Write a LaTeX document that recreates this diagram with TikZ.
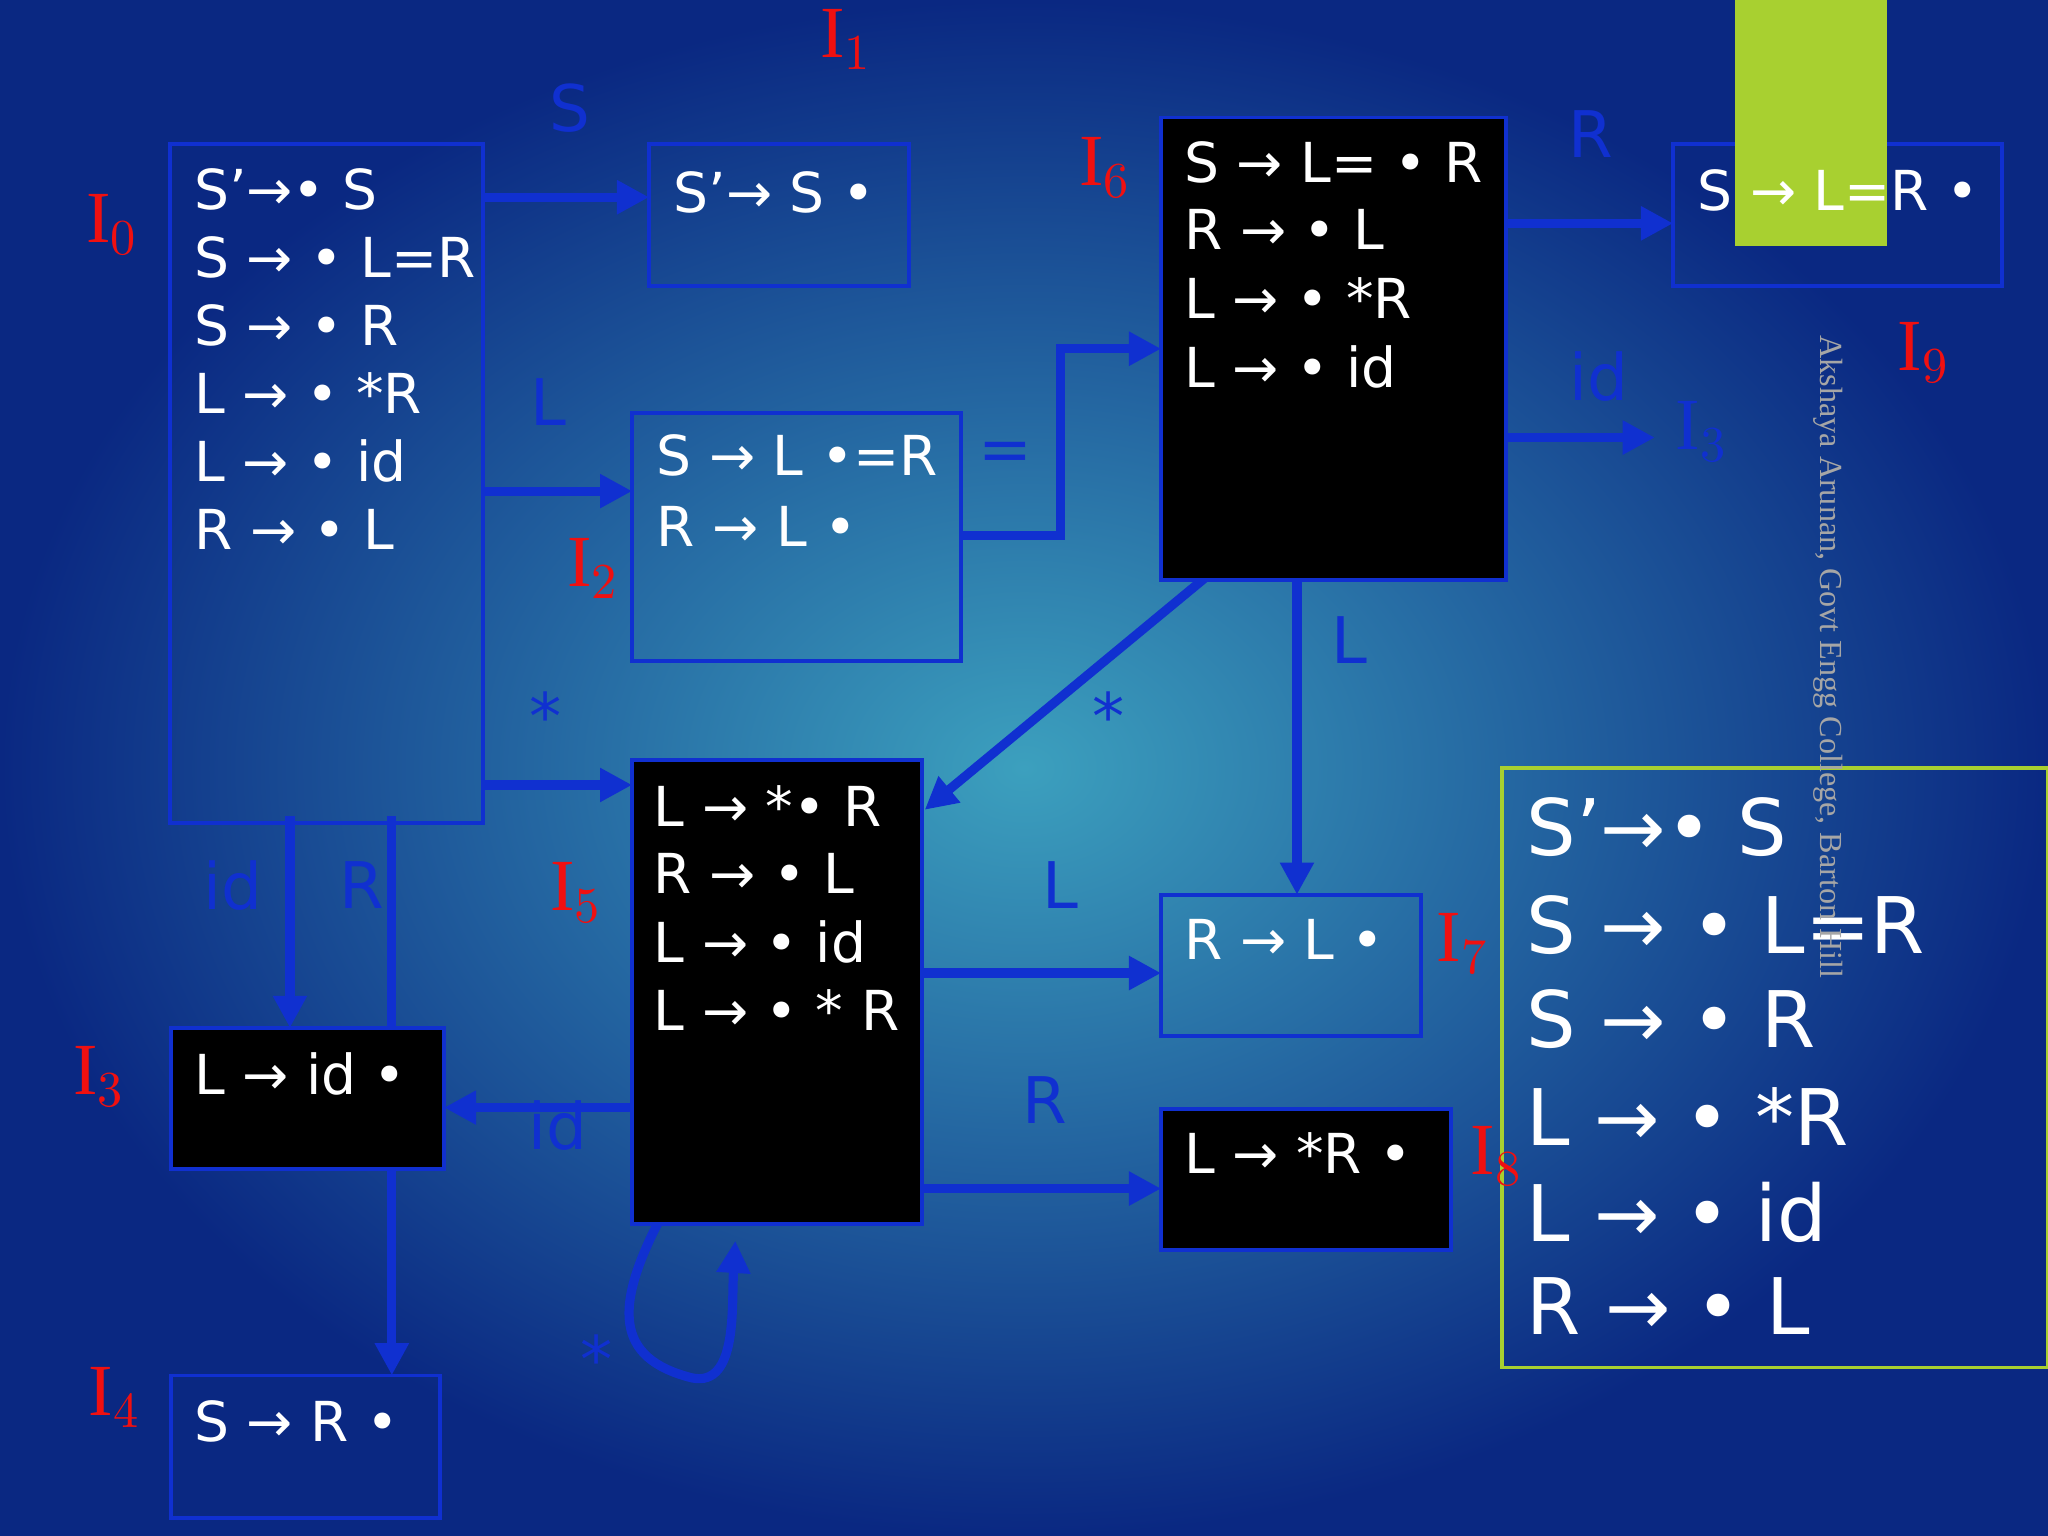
\documentclass[tikz,border=0pt]{standalone}
\usepackage{fontspec}
\setmainfont{DejaVu Sans}
\newfontfamily\serifl{Liberation Serif}
\usetikzlibrary{arrows.meta}
\definecolor{ebl}{HTML}{1030D0}
\definecolor{ired}{HTML}{F01010}
\definecolor{lime}{HTML}{A8D030}
\tikzset{
 wbox/.style={draw=ebl,line width=0.8pt},
 bbox/.style={draw=ebl,fill=black,line width=0.8pt},
 itm/.style={anchor=west,text=white,font=\fontsize{12}{12}\selectfont,inner sep=0pt},
 big/.style={anchor=west,text=white,font=\fontsize{17}{17}\selectfont,inner sep=0pt},
 ed/.style={draw=ebl,line width=2pt,-{Triangle[length=7pt,width=7pt]}},
 elab/.style={text=ebl,font=\fontsize{14}{14}\selectfont},
 ilab/.style={text=ired,font=\serifl\fontsize{16}{16}\selectfont},
}
\begin{document}
\begin{tikzpicture}[x=0.01cm,y=-0.01cm]
\shade[inner color={rgb,255:red,60;green,160;blue,190},outer color={rgb,255:red,10;green,40;blue,130}] (0,0) rectangle (1568,1176);
\useasboundingbox (0,0) rectangle (1568,1176);
\coordinate (e1s) at (370,151); \coordinate (e1t) at (497,151);
\draw[ed] (e1s) -- (e1t);
\coordinate (e2s) at (370,376); \coordinate (e2t) at (484,376);
\draw[ed] (e2s) -- (e2t);
\coordinate (e3s) at (370,601); \coordinate (e3t) at (484,601);
\draw[ed] (e3s) -- (e3t);
\coordinate (e4s) at (222,625); \coordinate (e4t) at (222,787);
\draw[ed] (e4s) -- (e4t);
\coordinate (e5s) at (300,625); \coordinate (e5t) at (300,1053);
\draw[ed] (e5s) -- (e5t);
\coordinate (e6s) at (736,410); \coordinate (e6t) at (889,267);
\draw[ed] (e6s) -- (812,410) -- (812,267) -- (e6t);
\coordinate (e7s) at (1153,171); \coordinate (e7t) at (1281,171);
\draw[ed] (e7s) -- (e7t);
\coordinate (e8s) at (1153,335); \coordinate (e8t) at (1267,335);
\draw[ed] (e8s) -- (e8t);
\coordinate (e9s) at (993,444); \coordinate (e9t) at (993,685);
\draw[ed] (e9s) -- (e9t);
\coordinate (e10s) at (928,438); \coordinate (e10t) at (708,620);
\draw[ed] (e10s) -- (e10t);
\coordinate (e11s) at (706,745); \coordinate (e11t) at (889,745);
\draw[ed] (e11s) -- (e11t);
\coordinate (e12s) at (706,910); \coordinate (e12t) at (889,910);
\draw[ed] (e12s) -- (e12t);
\coordinate (e13s) at (484,848); \coordinate (e13t) at (340,848);
\draw[ed] (e13s) -- (e13t);
\coordinate (e14s) at (507,930); \coordinate (e14t) at (563,950);
\draw[ed] (e14s) .. controls (470,1000) and (470,1040) .. (530,1055) .. controls (565,1062) and (560,1000) .. (e14t);
\draw[wbox] (130,110) rectangle (370,630);
\draw[wbox] (497,110) rectangle (696,219);
\draw[wbox] (484,316) rectangle (736,506);
\draw[bbox] (889,90) rectangle (1153,444);
\draw[wbox] (1281,110) rectangle (1533,219);
\fill[lime] (1328,0) rectangle (1445,188);
\draw[bbox] (131,787) rectangle (340,895);
\draw[wbox] (131,1053) rectangle (337,1162);
\draw[bbox] (484,582) rectangle (706,937);
\draw[wbox] (889,685) rectangle (1088,793);
\draw[bbox] (889,849) rectangle (1111,957);
\draw[draw=lime,line width=0.8pt] (1150,588) rectangle (1568,1047);
\node[itm] (i0a) at (148,145) {S'→• S};
\node[itm] (i0b) at (148,197) {S → • L=R};
\node[itm] (i0c) at (148,249) {S → • R};
\node[itm] (i0d) at (148,301) {L → • *R};
\node[itm] (i0e) at (148,353) {L → • id};
\node[itm] (i0f) at (148,405) {R → • L};
\node[itm] (i1) at (515,147) {S'→ S •};
\node[itm] (i2a) at (502,349) {S →  L •=R};
\node[itm] (i2b) at (502,403) {R →  L •};
\node[itm] (i6a) at (906,124) {S →  L= • R};
\node[itm] (i6b) at (906,176) {R → • L};
\node[itm] (i6c) at (906,228) {L → • *R};
\node[itm] (i6d) at (906,281) {L → • id};
\node[itm] (i9) at (1299,146) {S  →  L=R •};
\node[itm] (i3) at (148,822) {L →  id •};
\node[itm] (i4) at (148,1088) {S →  R •};
\node[itm] (i5a) at (500,617) {L →  *• R};
\node[itm] (i5b) at (500,669) {R → • L};
\node[itm] (i5c) at (500,721) {L → • id};
\node[itm] (i5d) at (500,773) {L → • * R};
\node[itm] (i7) at (906,719) {R →  L •};
\node[itm] (i8) at (906,883) {L →  *R •};
\node[big] (ba) at (1168,633) {S'→• S};
\node[big] (bb) at (1168,708) {S → • L=R};
\node[big] (bc) at (1168,780) {S → • R};
\node[big] (bd) at (1168,855) {L → • *R};
\node[big] (be) at (1168,928) {L → • id};
\node[big] (bf) at (1168,1000) {R → • L};
\node[rotate=-90,text=gray!70,font=\serifl\fontsize{7}{7}\selectfont] (cred) at (1400,503) {Akshaya Arunan, Govt Engg College, Barton Hill};
\node[elab] (ls1) at (436,83) {S};
\node[elab] (ls2) at (420,308) {L};
\node[elab] (ls3) at (418,548) {*};
\node[elab] (ls4) at (178,678) {id};
\node[elab] (ls5) at (277,678) {R};
\node[elab] (ls6) at (770,350) {=};
\node[elab] (ls7) at (1218,103) {R};
\node[elab] (ls8) at (1224,288) {id};
\node[elab] (ls9) at (1033,490) {L};
\node[elab] (ls10) at (849,548) {*};
\node[elab] (ls11) at (812,678) {L};
\node[elab] (ls12) at (800,842) {R};
\node[elab] (ls13) at (427,862) {id};
\node[elab] (ls14) at (457,1040) {*};
\node[text=ebl,font=\serifl\fontsize{16}{16}\selectfont] (l3b) at (1303,330) {I$_3$};
\node[ilab] (n1) at (648,30) {I$_1$};
\node[ilab] (n6) at (846,128) {I$_6$};
\node[ilab] (n0) at (86,172) {I$_0$};
\node[ilab] (n2) at (454,435) {I$_2$};
\node[ilab] (n9) at (1473,270) {I$_9$};
\node[ilab] (n3) at (76,824) {I$_3$};
\node[ilab] (n5) at (441,683) {I$_5$};
\node[ilab] (n7) at (1120,722) {I$_7$};
\node[ilab] (n8) at (1146,885) {I$_8$};
\node[ilab] (n4) at (88,1070) {I$_4$};
\end{tikzpicture}
\end{document}
